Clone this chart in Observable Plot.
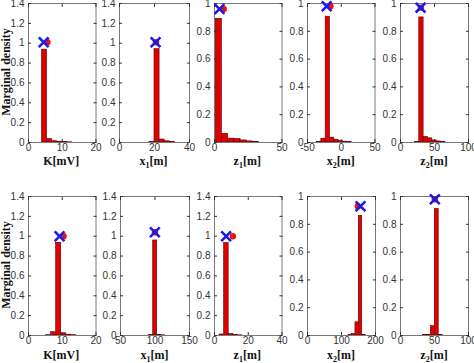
<!DOCTYPE html>
<html><head><meta charset="utf-8">
<script src="https://cdn.jsdelivr.net/npm/d3@7"></script>
<script src="https://cdn.jsdelivr.net/npm/@observablehq/plot@0.6"></script>
<style>
body{margin:0;background:#fff;}
#chart{position:relative;width:474px;height:363px;overflow:hidden;background:#fff;}
#chart svg{position:absolute;overflow:visible;}
.xl{position:absolute;font:bold 12px "Liberation Serif","Times New Roman",serif;color:#111;transform:translate(-50%,-50%);white-space:nowrap;}
.xl sub{font-size:8px;vertical-align:-3px;line-height:0;}
.yl{position:absolute;font:bold 12px "Liberation Serif","Times New Roman",serif;color:#111;transform:translate(-50%,-50%) rotate(-90deg);white-space:nowrap;}
</style></head><body><div id="chart"></div>
<script>
// ---- data ----
const labelVar = ["K", "x", "z", "x", "z"];
const labelSub = ["", "1", "1", "2", "2"];
const labelUnit = ["mV", "m", "m", "m", "m"];
const yAxisTitle = "Marginal density";
const yTicks14 = [0, 0.2, 0.4, 0.6, 0.8, 1, 1.2, 1.4];
const yTicks10 = [0, 0.2, 0.4, 0.6, 0.8, 1];

// top row
const topXDomains = [[0, 20], [0, 40], [0, 50], [-50, 50], [0, 100]];
const topXTicks = [[0, 10, 20], [0, 20, 40], [0, 50], [-50, 0, 50], [0, 50, 100]];
const topYMax = [1.4, 1.4, 1, 1, 1];
const topBinStart = [4.0, 17.1, 0.9, -35.9, 21.2];
const topBinWidth = [1.5, 2.9, 4.6, 6.4, 6.4];
const topHeights = [
  [0.935, 0.035, 0.013, 0.008, 0.004, 0.002],
  [0.005, 0.94, 0.03, 0.012, 0.005],
  [0.89, 0.063, 0.028, 0.025, 0.015, 0.008, 0.004],
  [0.005, 0.027, 0.905, 0.035, 0.02, 0.01, 0.006, 0.003],
  [0.003, 0.90, 0.04, 0.03, 0.015, 0.008, 0.004]
];
const topEstimate = [[4.5, 1.01], [20.6, 1.01], [3.7, 0.96], [-21.6, 0.98], [29.5, 0.97]];
const topTrue = [[5.6, 1.01], [20.9, 1.01], [6.8, 0.96], [-16, 0.98], [30, 0.97]];

// bottom row
const botXDomains = [[0, 20], [50, 150], [0, 40], [0, 200], [0, 100]];
const botXTicks = [[0, 10, 20], [50, 100, 150], [0, 20, 40], [0, 100, 200], [0, 50, 100]];
const botYMax = [1.4, 1.4, 1.4, 1, 1];
const botBinStart = [5.2, 91.6, 3.0, 121, 33];
const botBinWidth = [1.5, 5.8, 2.7, 10, 5.8];
const botHeights = [
  [0.003, 0.033, 0.934, 0.022, 0.008, 0.003],
  [0.005, 0.957, 0.006, 0.002],
  [0.01, 0.93, 0.015, 0.005, 0.002],
  [0.003, 0.01, 0.095, 0.86, 0.005],
  [0.003, 0.005, 0.067, 0.91, 0.005]
];
const botEstimate = [[9.2, 1.0], [99.8, 1.04], [6.9, 1.0], [156, 0.93], [50.5, 0.98]];
const botTrue = [[10.4, 1.0], [100, 1.04], [10.9, 1.0], [148, 0.93], [50.5, 0.98]];

// ---- layout ----
const chart = document.getElementById("chart");
const rows = [
  {top: 3, bottom: 142, labelY: 161, titleY: 72,
   frames: [[27.5, 95], [118.5, 188.5], [213.5, 281], [307, 374.5], [400, 468]],
   dom: topXDomains, ticks: topXTicks, ymax: topYMax, start: topBinStart, width: topBinWidth,
   heights: topHeights, est: topEstimate, tru: topTrue},
  {top: 196, bottom: 335, labelY: 355, titleY: 265,
   frames: [[27.5, 95], [120, 189], [213.5, 281], [307, 375], [400, 468]],
   dom: botXDomains, ticks: botXTicks, ymax: botYMax, start: botBinStart, width: botBinWidth,
   heights: botHeights, est: botEstimate, tru: botTrue}
];

const fmt = d => String(d);
for (const row of rows) {
  for (let i = 0; i < 5; i++) {
    const [fx0, fx1] = row.frames[i];
    const mL = 28, mR = 10, mB = 16;
    const mT = Math.min(row.top, 10);
    const bins = row.heights[i].map((h, k) => ({
      a: row.start[i] + k * row.width[i],
      b: row.start[i] + (k + 1) * row.width[i],
      h
    }));
    const yt = row.ymax[i] > 1 ? yTicks14 : yTicks10;
    const svg = Plot.plot({
      width: mL + (fx1 - fx0) + mR,
      height: mT + (row.bottom - row.top) + mB,
      marginLeft: mL, marginRight: mR, marginTop: mT, marginBottom: mB,
      style: {background: "transparent", fontFamily: "'Liberation Sans', Arial, sans-serif", fontSize: "10px", color: "#333", overflow: "visible"},
      x: {domain: row.dom[i], label: null},
      y: {domain: [0, row.ymax[i]], label: null},
      marks: [
        Plot.rectY(bins, {x1: "a", x2: "b", y: "h", fill: "#e00000", stroke: "#5a0000", strokeWidth: 0.6}),
        Plot.frame({stroke: "#7a7a7a"}),
        Plot.axisX({ticks: row.ticks[i], tickSize: -3, tickPadding: 4.5, tickFormat: fmt}),
        Plot.axisX({anchor: "top", ticks: row.ticks[i], tickSize: -3, tickFormat: () => ""}),
        Plot.axisY({ticks: yt, tickSize: -3, tickPadding: 7, tickFormat: fmt}),
        Plot.axisY({anchor: "right", ticks: yt, tickSize: -3, tickFormat: () => ""}),
        Plot.dot([row.tru[i]], {x: d => d[0], y: d => d[1], r: 3.2, fill: "#ee1111"}),
        Plot.dot([row.est[i]], {x: d => d[0], y: d => d[1], symbol: "times", r: 4.5, stroke: "#1a1ae6", strokeWidth: 2.6})
      ]
    });
    svg.style.left = (fx0 - mL) + "px";
    svg.style.top = (row.top - mT) + "px";
    chart.appendChild(svg);

    const lab = document.createElement("div");
    lab.className = "xl";
    lab.style.left = ((fx0 + fx1) / 2) + "px";
    lab.style.top = row.labelY + "px";
    lab.innerHTML = labelVar[i] + (labelSub[i] ? "<sub>" + labelSub[i] + "</sub>" : "") + "[" + labelUnit[i] + "]";
    chart.appendChild(lab);
  }
  const yl = document.createElement("div");
  yl.className = "yl";
  yl.style.left = "6px";
  yl.style.top = row.titleY + "px";
  yl.textContent = yAxisTitle;
  chart.appendChild(yl);
}
</script></body></html>
